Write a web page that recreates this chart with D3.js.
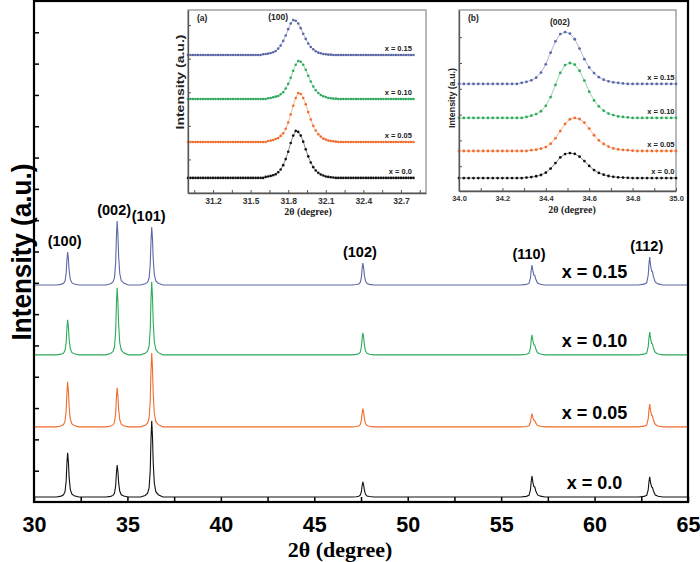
<!DOCTYPE html>
<html>
<head>
<meta charset="utf-8">
<script src="https://cdn.jsdelivr.net/npm/d3@7"></script>
<style>
    body { margin: 0; background: #fff; }
</style>
</head>
<body>
<div id="vis"></div>
<script>
    // ---- main pattern ----
    var samples = ["x = 0.0", "x = 0.05", "x = 0.10", "x = 0.15"];
    var colors = ["#111111", "#f06c2c", "#2eaa5c", "#5a68a8"];
    var peakLabels = ["(100)", "(002)", "(101)", "(102)", "(110)", "(112)"];
    var peakPos = [31.8, 34.45, 36.3, 47.6, 56.65, 62.95];
    var peakDoublet = [false, false, false, false, true, true];
    var baseline = [0.16, 2.40, 4.70, 6.93];
    var heights00 = [1.41, 1.02, 2.43, 0.48, 0.67, 0.64];
    var heights05 = [1.44, 1.25, 2.36, 0.58, 0.42, 0.73];
    var heights10 = [1.12, 2.14, 2.33, 0.70, 0.64, 0.73];
    var heights15 = [1.05, 2.04, 1.85, 0.70, 0.64, 0.89];
    var heights = [heights00, heights05, heights10, heights15];
    // peak shape: [offset in 2θ, fraction of peak height]
    var profileSingle = [[-0.6, 0], [-0.35, 0.02], [-0.22, 0.05], [-0.14, 0.12], [-0.08, 0.35], [-0.04, 0.75],
        [0, 1], [0.04, 0.8], [0.08, 0.45], [0.14, 0.18], [0.22, 0.07], [0.35, 0.03], [0.6, 0]];
    var profileDoublet = [[-0.6, 0], [-0.3, 0.03], [-0.16, 0.08], [-0.08, 0.35], [-0.04, 0.75], [0, 1],
        [0.05, 0.7], [0.1, 0.5], [0.15, 0.48], [0.2, 0.3], [0.3, 0.1], [0.45, 0.04], [0.7, 0]];

    // ---- inset (a): (100) peak, 31.0 - 32.8 deg, step 0.02 ----
    var insetAStart = 31.0, insetAStep = 0.02;
    var insetA00 = [45,45,45,45,45,45,45,45,45,45, 45,45,45,45,45,45,45,45,45,45, 45,45,45,45,45,45,45,45,45,45, 45,
        48,49,51,53,56,62,70,83,101,123,149,171,185,182,171,153,130,109,91,77,67,60,55,52,49,48, 47,46,
        45,45,45,45,45,45,45,45,45,45, 45,45,45,45,45,45,45,45,45,45, 45,45,45,45,45,45,45,45,45,45, 45,45];
    var insetA05 = [152,152,152,152,152,152,152,152,152,152, 152,152,152,152,152,152,152,152,152,152, 152,152,152,152,152,152,152,152,152,152, 152,152,
        155,156,158,161,164,170,178,191,210,234,260,283,298,295,283,264,241,219,200,186,175,168,162,159,156,155, 154,153,
        152,152,152,152,152,152,152,152,152,152, 152,152,152,152,152,152,152,152,152,152, 152,152,152,152,152,152,152,152,152,152, 152];
    var insetA10 = [280,280,280,280,280,280,280,280,280,280, 280,280,280,280,280,280,280,280,280,280, 280,280,280,280,280,280,280,280,280,280, 280,280,
        282,283,285,287,289,294,300,311,325,343,364,382,393,391,382,367,349,332,317,306,298,292,288,286,283,282, 281,281,
        280,280,280,280,280,280,280,280,280,280, 280,280,280,280,280,280,280,280,280,280, 280,280,280,280,280,280,280,280,280,280, 280];
    var insetA15 = [411,411,411,411,411,411,411,411,411,411, 411,411,411,411,411,411,411,411,411,411, 411,411,411,411,411,411,411,411,411,411,
        413,414,415,417,419,423,430,439,453,469,488,505,515,513,505,491,474,459,445,435,428,422,418,416,414,413, 412,412,
        411,411,411,411,411,411,411,411,411,411, 411,411,411,411,411,411,411,411,411,411, 411,411,411,411,411,411,411,411,411,411, 411,411,411];

    // ---- inset (b): (002) peak, 34.0 - 35.0 deg, 45 steps ----
    var insetBStart = 34.0, insetBStep = 1 / 45;
    var insetB00 = [54,54,54,54,54,54,54,54,54,54,54,54,54,54,
        56,58,61,66,75,91,112,134,147,151,148,137,120,101,85,74,67,62,59,57,56, 55,
        54,54,54,54,54,54,54,54,54,54];
    var insetB05 = [159,159,159,159,159,159,159,159,159,159,159,159,159,159,159,
        162,164,168,174,187,208,236,264,282,287,283,269,246,220,200,186,176,169,165,163,162, 160,
        159,159,159,159,159,159,159,159,159];
    var insetB10 = [287,287,287,287,287,287,287,287,287,287,287,287,287,287,
        291,296,302,313,334,368,415,462,492,500,494,470,432,389,355,332,315,304,298,293,291, 289,
        287,287,287,287,287,287,287,287,287,287];
    var insetB15 = [419,419,419,419,419,419,419,419,419,419,419,419,419,
        423,427,433,443,463,495,540,584,612,620,614,592,556,515,483,461,445,435,429,425,423, 421,
        419,419,419,419,419,419,419,419,419,419,419];

    var SANS = "Arial, 'Liberation Sans', sans-serif";
    var SERIF = "'Liberation Serif', 'Times New Roman', 'DejaVu Serif', serif";

    var width = 700, height = 562;

    var svg = d3.select("#vis").append("svg")
        .attr("width", width)
        .attr("height", height)
        .style("font-family", SANS)
        .style("font-weight", "bold");

    var x = d3.scaleLinear().domain([30, 65]).range([34, 688]);
    var y = d3.scaleLinear().domain([0, 16]).range([502, 1]);

    var line = d3.line()
        .x(function(d) { return x(d[0]); })
        .y(function(d) { return y(d[1]); });

    // traces
    samples.forEach(function(s, k) {
        var pts = [[30, baseline[k]]];
        peakPos.forEach(function(p, i) {
            var prof = peakDoublet[i] ? profileDoublet : profileSingle;
            prof.forEach(function(q) {
                pts.push([p + q[0], baseline[k] + heights[k][i] * q[1]]);
            });
        });
        pts.push([65, baseline[k]]);

        svg.append("path")
            .datum(pts)
            .attr("d", line)
            .attr("fill", "none")
            .attr("stroke", colors[k])
            .attr("stroke-width", 1.1);

        svg.append("text")
            .attr("x", x(60))
            .attr("y", y(baseline[k]) - 7.5)
            .attr("text-anchor", "middle")
            .attr("font-size", 18)
            .text(s);
    });

    // peak labels above the top trace
    peakLabels.forEach(function(lab, i) {
        var top = baseline[3] + heights15[i];
        svg.append("text")
            .attr("x", x(peakPos[i]) - 3)
            .attr("y", y(top) - 6)
            .attr("text-anchor", "middle")
            .attr("font-size", 14.5)
            .text(lab);
    });

    // axes
    svg.append("g")
        .attr("transform", "translate(0,502)")
        .call(d3.axisBottom(x)
            .tickValues(d3.range(30, 65.1, 2.5))
            .tickSizeInner(-5)
            .tickSizeOuter(0)
            .tickPadding(15.2)
            .tickFormat(function(d) { return d % 5 === 0 ? d : ""; }))
        .call(function(g) {
            g.select(".domain").remove();
            g.selectAll("line").attr("stroke", "#000").attr("stroke-width", 1.5);
            g.selectAll("text").attr("font-size", 21.5).attr("fill", "#000")
                .attr("font-family", null).style("font-family", SANS).style("font-weight", "bold");
        });

    svg.append("g")
        .attr("transform", "translate(34,0)")
        .call(d3.axisLeft(y)
            .tickValues(d3.range(1, 16))
            .tickSizeInner(-5)
            .tickSizeOuter(0)
            .tickFormat(""))
        .call(function(g) {
            g.select(".domain").remove();
            g.selectAll("line").attr("stroke", "#000").attr("stroke-width", 1.5);
        });

    svg.append("rect")
        .attr("x", 34).attr("y", 1)
        .attr("width", 654).attr("height", 501)
        .attr("fill", "none")
        .attr("stroke", "#000")
        .attr("stroke-width", 2.2);

    svg.append("text")
        .attr("transform", "translate(31,252) rotate(-90)")
        .attr("text-anchor", "middle")
        .attr("font-size", 27)
        .attr("textLength", 177)
        .attr("lengthAdjust", "spacingAndGlyphs")
        .text("Intensity (a.u.)");

    svg.append("text")
        .attr("x", 340).attr("y", 557)
        .attr("text-anchor", "middle")
        .attr("font-size", 22)
        .style("font-family", SERIF)
        .text("2θ (degree)");

    // ---- insets ----
    function drawInset(o) {
        var g = svg.append("g");
        var xs = o.x, ys = o.y;
        var x0 = xs.range()[0], x1 = xs.range()[1];
        var y0 = ys.range()[0], y1 = ys.range()[1];

        g.append("rect")
            .attr("x", x0).attr("y", y1)
            .attr("width", x1 - x0).attr("height", y0 - y1)
            .attr("fill", "#fff")
            .attr("stroke", "#8a8a8a")
            .attr("stroke-width", 1.2);

        o.series.forEach(function(vals, k) {
            var pts = vals.map(function(v, i) { return [o.start + i * o.step, v]; });
            g.append("path")
                .datum(pts)
                .attr("d", d3.line()
                    .x(function(d) { return xs(d[0]); })
                    .y(function(d) { return ys(d[1]); }))
                .attr("fill", "none")
                .attr("stroke", colors[k])
                .attr("stroke-width", 0.5);
            g.selectAll(".dot" + k)
                .data(pts)
                .enter().append("circle")
                .attr("cx", function(d) { return xs(d[0]); })
                .attr("cy", function(d) { return ys(d[1]); })
                .attr("r", o.r)
                .attr("fill", colors[k]);
            g.append("text")
                .attr("x", xs(pts[pts.length - 1][0]) - 1.5)
                .attr("y", ys(vals[0]) - 4)
                .attr("text-anchor", "end")
                .attr("font-size", o.small)
                .attr("fill", "#222")
                .text(samples[k]);
        });

        g.append("g")
            .attr("transform", "translate(0," + y0 + ")")
            .call(d3.axisBottom(xs)
                .tickValues(o.xticks)
                .tickSizeInner(-3)
                .tickSizeOuter(0)
                .tickPadding(5)
                .tickFormat(o.xfmt))
            .call(function(a) {
                a.select(".domain").attr("stroke", "#555").attr("stroke-width", 1.3);
                a.selectAll("line").attr("stroke", "#555");
                a.selectAll("text").attr("font-size", o.tick).attr("fill", "#333")
                    .attr("font-family", null).style("font-family", SANS).style("font-weight", "bold");
            });

        g.append("g")
            .attr("transform", "translate(" + x0 + ",0)")
            .call(d3.axisLeft(ys)
                .tickValues(o.yticks)
                .tickSizeInner(-3)
                .tickSizeOuter(0)
                .tickFormat(""))
            .call(function(a) {
                a.select(".domain").attr("stroke", "#555").attr("stroke-width", 1.3);
                a.selectAll("line").attr("stroke", "#555");
            });

        g.append("text")
            .attr("transform", "translate(" + (x0 - 4) + "," + o.ylabY + ") rotate(-90)")
            .attr("text-anchor", "middle")
            .attr("font-size", o.ylabSize)
            .attr("textLength", o.ylabLen)
            .attr("lengthAdjust", "spacingAndGlyphs")
            .attr("fill", "#222")
            .text("Intensity (a.u.)");

        g.append("text")
            .attr("x", o.xlabX).attr("y", o.xlabY)
            .attr("text-anchor", "middle")
            .attr("font-size", 10)
            .attr("fill", "#222")
            .style("font-family", SERIF)
            .text("2θ (degree)");

        g.append("text")
            .attr("x", x0 + 9).attr("y", y1 + 11)
            .attr("font-size", 8.5)
            .attr("fill", "#222")
            .text(o.tag);

        g.append("text")
            .attr("x", xs(o.peakLabelAt)).attr("y", o.peakLabelY)
            .attr("text-anchor", "middle")
            .attr("font-size", 8.5)
            .attr("fill", "#222")
            .text(o.peakLabel);
    }

    drawInset({
        x: d3.scaleLinear().domain([31.0, 32.9]).range([188, 426]),
        y: d3.scaleLinear().domain([0, 545]).range([193, 10]),
        series: [insetA00, insetA05, insetA10, insetA15],
        start: insetAStart, step: insetAStep, r: 1.3,
        xticks: d3.range(31.05, 32.9, 0.15),
        xfmt: function(d) { return Math.round(d * 100) % 30 === 0 ? d3.format(".1f")(d) : ""; },
        yticks: [100, 200, 300, 400, 500],
        small: 7.5, tick: 8.5,
        ylabY: 82, ylabSize: 10, ylabLen: 95,
        xlabX: 308, xlabY: 215,
        tag: "(a)", peakLabel: "(100)", peakLabelAt: 31.72, peakLabelY: 20
    });

    drawInset({
        x: d3.scaleLinear().domain([34.0, 35.0]).range([459, 676]),
        y: d3.scaleLinear().domain([3.9, 705.4]).range([191, 10]),
        series: [insetB00, insetB05, insetB10, insetB15],
        start: insetBStart, step: insetBStep, r: 1.4,
        xticks: d3.range(0, 11).map(function(i) { return 34 + i / 10; }),
        xfmt: function(d) { return Math.round(d * 10) % 2 === 0 ? d3.format(".1f")(d) : ""; },
        yticks: [100, 200, 300, 400, 500, 600],
        small: 7.5, tick: 7.5,
        ylabY: 98, ylabSize: 9.5, ylabLen: 60,
        xlabX: 572, xlabY: 213,
        tag: "(b)", peakLabel: "(002)", peakLabelAt: 34.465, peakLabelY: 25
    });
</script>
</body>
</html>
